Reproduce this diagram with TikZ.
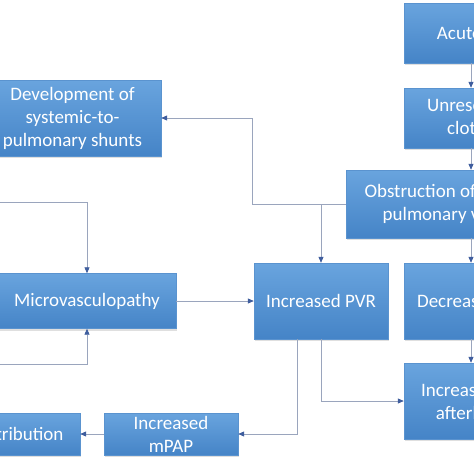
\documentclass[tikz,border=0pt]{standalone}
\usepackage{fontspec}
\setmainfont{Carlito}
\usetikzlibrary{arrows.meta, shadows}
\definecolor{boxtop}{HTML}{69A4DE}
\definecolor{boxbot}{HTML}{4584C7}
\definecolor{boxedge}{HTML}{5A93CF}
\definecolor{linegray}{HTML}{9AA5BD}
\definecolor{tipblue}{HTML}{3F5E9E}

\begin{document}
\begin{tikzpicture}[x=1pt, y=-1pt,
  >={Triangle[length=6pt, width=5pt, color=tipblue]},
  font=\fontsize{19}{23}\selectfont,
  flowbox/.style={rectangle, draw=boxedge, line width=0.4pt, top color=boxtop, bottom color=boxbot,
    text=white, align=center, inner sep=0pt,
    drop shadow={opacity=0.25, shadow xshift=1pt, shadow yshift=-2pt}},
  conn/.style={->, draw=linegray, line width=0.8pt}]
  \useasboundingbox (0,0) rectangle (474,474);
  \clip (0,0) rectangle (474,474);

  % right column
  \node[flowbox, minimum width=134pt, minimum height=60pt] (acute) at (471,33) {Acute PE};
  \node[flowbox, minimum width=134pt, minimum height=60pt] (unres) at (471,118) {Unresolved\\clot(s)};
  \node[flowbox, minimum width=250pt, minimum height=68pt] (obstr) at (471,204) {Obstruction of the proximal\\pulmonary vasculature};
  \node[flowbox, minimum width=134pt, minimum height=76pt] (decr) at (471,301) {Decreased CO};
  \node[flowbox, minimum width=134pt, minimum height=76pt] (incaft) at (471,401) {Increased RV\\afterload};

  % middle and left
  \node[flowbox, minimum width=134pt, minimum height=76pt] (pvr) at (321,301) {Increased PVR};
  \node[flowbox, minimum width=177pt, minimum height=76pt] (devel) at (72.5,118) {Development of\\systemic-to-\\pulmonary shunts};
  \node[flowbox, minimum width=178pt, minimum height=55pt] (micro) at (87,301) {Microvasculopathy};
  \node[flowbox, minimum width=134pt, minimum height=42pt] (mpap) at (171,434) {Increased\\mPAP};
  \node[flowbox, minimum width=142pt, minimum height=42pt] (redist) at (9,434) {Redistribution};

  % loose ends coming in from the left
  \coordinate (inA) at (-10,202);
  \coordinate (inB) at (-10,364);

  % arrows
  \draw[conn] (acute) -- (unres);
  \draw[conn] (unres) -- (obstr);
  \draw[conn] (obstr.south -| decr) -- (decr);
  \draw[conn] (decr) -- (incaft);
  \draw[conn] (obstr.west) -| (pvr.north);
  \draw[conn] (obstr.west) -- ++(-93,0) |- (devel.east);
  \draw[conn] (micro) -- (pvr);
  \draw[conn] (pvr.south) |- (incaft.west);
  \draw[conn] ([xshift=-24pt]pvr.south) |- (mpap.east);
  \draw[conn] (mpap) -- (redist);
  \draw[conn] (inA) -| (micro.north);
  \draw[conn] (inB) -| (micro.south);
\end{tikzpicture}
\end{document}
